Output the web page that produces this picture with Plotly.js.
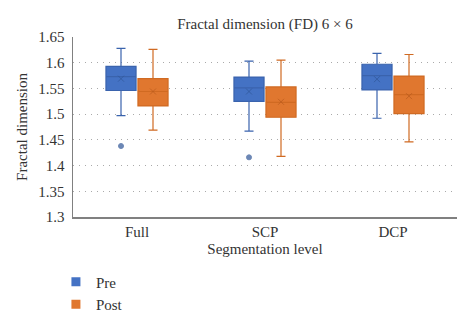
<!DOCTYPE html>
<html><head><meta charset="utf-8">
<script src="https://cdn.plot.ly/plotly-3.0.1.min.js"></script>
<style>html,body{margin:0;padding:0;background:#fff}#chart{width:474px;height:325px}</style>
</head><body><div id="chart"></div>
<script>
const categories = ['Full', 'SCP', 'DCP'];
const seriesNames = ['Pre', 'Post'];
const yTitle = 'Fractal dimension';
// Pre
const preLower = [1.497, 1.467, 1.492];
const preQ1 = [1.546, 1.525, 1.547];
const preMedian = [1.573, 1.551, 1.575];
const preQ3 = [1.593, 1.572, 1.597];
const preUpper = [1.628, 1.603, 1.618];
const preMean = [1.569, 1.544, 1.568];
const preOutlierCats = ['Full', 'SCP'];
const preOutliers = [1.438, 1.416];
// Post
const postLower = [1.469, 1.418, 1.446];
const postQ1 = [1.516, 1.494, 1.501];
const postMedian = [1.544, 1.523, 1.538];
const postQ3 = [1.569, 1.553, 1.574];
const postUpper = [1.626, 1.605, 1.616];
const postMean = [1.544, 1.524, 1.535];
const postOutlierCats = [];
const postOutliers = [];

const serif = 'Liberation Serif, Times New Roman, serif';
const txt = '#333';
const blue = '#4472C4', blueLine = '#3A63AD';
const orange = '#E0772F', orangeLine = '#D06A22';

function boxTrace(name, lo, q1, med, q3, up, fill, line, grp) {
  return {type: 'box', name: name, x: categories, q1: q1, median: med, q3: q3,
    lowerfence: lo, upperfence: up, fillcolor: fill, line: {color: line, width: 1.2},
    whiskerwidth: 0.3, boxpoints: false, offsetgroup: grp, hoverinfo: 'skip', showlegend: false};
}
function markTrace(cats, means, ocats, outs, color, grp) {
  const sym = means.map(() => 'x-thin-open').concat(outs.map(() => 'circle'));
  const sz = means.map(() => 6).concat(outs.map(() => 5));
  return {type: 'scatter', mode: 'markers', x: cats.concat(ocats), y: means.concat(outs),
    offsetgroup: grp, showlegend: false, hoverinfo: 'skip',
    marker: {symbol: sym, size: sz, color: color, line: {color: color, width: 1}}};
}
function legendTrace(name, color) {
  return {type: 'scatter', mode: 'markers', name: name, x: [null], y: [null],
    marker: {symbol: 'square', size: 9, color: color}, hoverinfo: 'skip'};
}
const data = [
  boxTrace(seriesNames[0], preLower, preQ1, preMedian, preQ3, preUpper, blue, blueLine, 'a'),
  boxTrace(seriesNames[1], postLower, postQ1, postMedian, postQ3, postUpper, orange, orangeLine, 'b'),
  markTrace(categories, preMean, preOutlierCats, preOutliers, '#2F5597', 'a'),
  markTrace(categories, postMean, postOutlierCats, postOutliers, '#B85A1C', 'b'),
  legendTrace(seriesNames[0], blue),
  legendTrace(seriesNames[1], orange)
];
const layout = {
  width: 474, height: 325,
  margin: {l: 73, r: 17, t: 37, b: 108, autoexpand: false},
  paper_bgcolor: '#fff', plot_bgcolor: '#fff',
  font: {family: serif, size: 15, color: txt},
  title: {text: 'Fractal dimension (FD) 6 × 6', font: {family: serif, size: 15, color: txt},
    x: 0.559, xanchor: 'center', y: 0.928, yanchor: 'middle'},
  boxmode: 'group', boxgap: 0.5, boxgroupgap: 0.06,
  scattermode: 'group', scattergap: 0.5,
  xaxis: {type: 'category', automargin: true, showline: true, linecolor: '#808080', linewidth: 1.5,
    showgrid: false, ticks: '', ticklabelstandoff: 0, tickfont: {family: serif, size: 15, color: txt},
    title: {text: 'Segmentation level', font: {family: serif, size: 15, color: txt}, standoff: 5}},
  yaxis: {range: [1.3, 1.65], dtick: 0.05, tickformat: '.3~f', automargin: false, showline: true, linecolor: '#808080', linewidth: 1.5,
    showgrid: true, gridcolor: '#aaa', griddash: '1px,5px', gridwidth: 1, zeroline: false, ticks: '',
    ticklabelstandoff: 4, tickfont: {family: serif, size: 15, color: txt}},
  annotations: [{text: yTitle, xref: 'paper', yref: 'paper', x: -0.133, y: 0.5, xanchor: 'center', yanchor: 'middle',
    textangle: -90, showarrow: false, font: {family: serif, size: 15, color: txt}}],
  legend: {orientation: 'v', xref: 'container', yref: 'container', x: 0.118, xanchor: 'left', y: 0.183, yanchor: 'top',
    font: {family: serif, size: 15, color: txt}, itemwidth: 30, tracegroupgap: 0},
  showlegend: true
};
Plotly.newPlot('chart', data, layout, {staticPlot: true, displayModeBar: false});
</script></body></html>
